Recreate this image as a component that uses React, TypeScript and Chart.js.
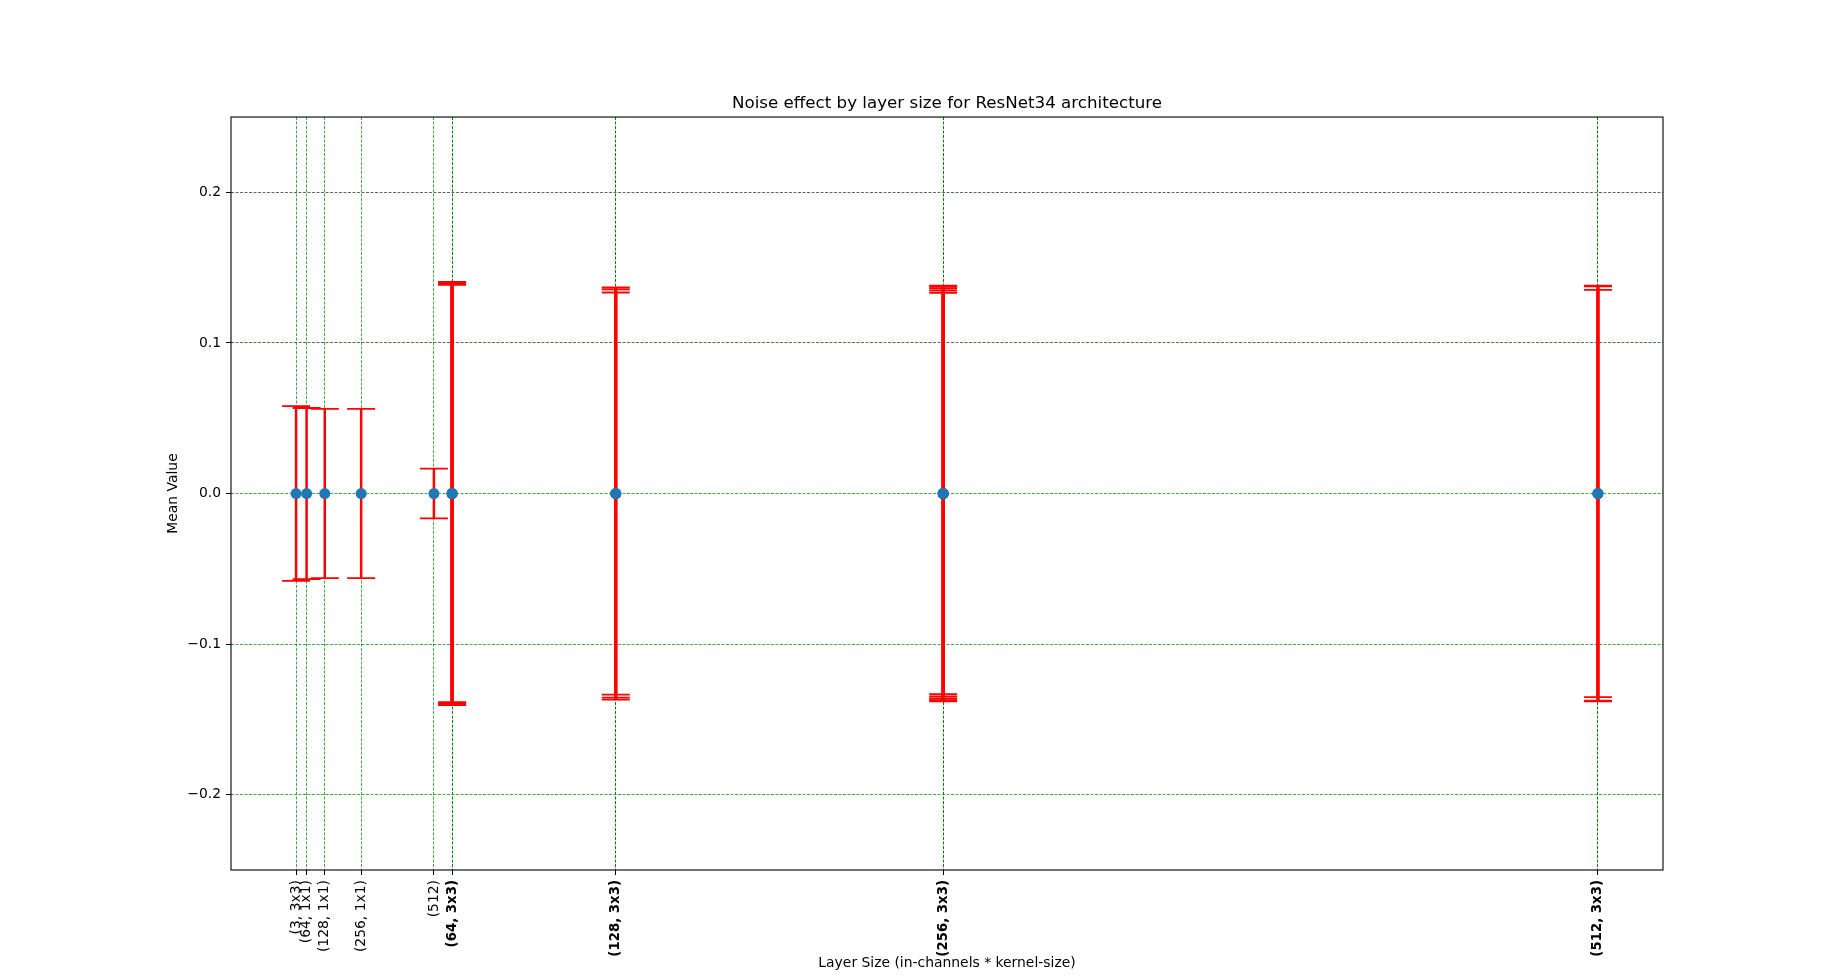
import { useEffect, useRef } from "react";
import Chart from "chart.js/auto";

// Layer groups on the x axis (in-channels, kernel size) and their size value
const groupLabels = [
  "(3, 3x3)",
  "(64, 1x1)",
  "(128, 1x1)",
  "(256, 1x1)",
  "(512)",
  "(64, 3x3)",
  "(128, 3x3)",
  "(256, 3x3)",
  "(512, 3x3)",
];
const groupSizes = [27, 64, 128, 256, 512, 576, 1152, 2304, 4608];
const groupIsBold = [false, false, false, false, false, true, true, true, true];

// One entry per layer: size, mean noise value, std (error bar)
const layerSizes = [
  27, 64, 128, 256, 512,
  576, 576, 576, 576,
  1152, 1152, 1152,
  2304, 2304, 2304, 2304, 2304,
  4608, 4608, 4608,
];
const layerMeans = [
  0, 0, 0, 0, 0,
  0, 0, 0, 0,
  0, 0, 0,
  0, 0, 0, 0, 0,
  0, 0, 0,
];
const layerStds = [
  0.058, 0.0568, 0.0562, 0.0562, 0.0165,
  0.1385, 0.1392, 0.1398, 0.1405,
  0.1335, 0.1355, 0.1368,
  0.1332, 0.1348, 0.1362, 0.1372, 0.138,
  0.1352, 0.1376, 0.138,
];

const yTicks = [-0.2, -0.1, 0.0, 0.1, 0.2];

const FONT = "'DejaVu Sans', sans-serif";

const errorBarPlugin = {
  id: "errorBars",
  beforeDatasetsDraw(chart: any) {
    const { ctx } = chart;
    const x = chart.scales.x;
    const y = chart.scales.y;
    ctx.save();
    ctx.strokeStyle = "#ff0000";
    layerSizes.forEach((s, i) => {
      const px = x.getPixelForValue(s);
      const top = y.getPixelForValue(layerMeans[i] + layerStds[i]);
      const bot = y.getPixelForValue(layerMeans[i] - layerStds[i]);
      ctx.lineWidth = layerStds[i] > 0.1 ? 3 : 2.5;
      ctx.beginPath();
      ctx.moveTo(px, top);
      ctx.lineTo(px, bot);
      ctx.stroke();
      ctx.lineWidth = 1.8;
      ctx.beginPath();
      ctx.moveTo(px - 14, top);
      ctx.lineTo(px + 14, top);
      ctx.moveTo(px - 14, bot);
      ctx.lineTo(px + 14, bot);
      ctx.stroke();
    });
    ctx.restore();
  },
};

const framePlugin = {
  id: "frame",
  afterDraw(chart: any) {
    const { ctx, chartArea: a } = chart;
    ctx.save();
    ctx.strokeStyle = "#000";
    ctx.lineWidth = 1.1;
    ctx.strokeRect(a.left, a.top, a.right - a.left, a.bottom - a.top);
    ctx.restore();
  },
};

export default function App() {
  const chartRef = useRef<HTMLCanvasElement | null>(null);

  useEffect(() => {
    if (!chartRef.current) return;
    const chart = new Chart(chartRef.current, {
      type: "scatter",
      data: {
        datasets: [
          {
            label: "mean",
            data: layerSizes.map((s, i) => ({ x: s, y: layerMeans[i] })),
            backgroundColor: "#1f77b4",
            borderWidth: 0,
            pointRadius: 5.5,
          },
        ],
      },
      options: {
        animation: false,
        responsive: true,
        maintainAspectRatio: false,
        layout: { padding: { left: 0, right: 185, top: 0, bottom: 0 } },
        plugins: {
          legend: { display: false },
          tooltip: { enabled: false },
          title: {
            display: true,
            text: "Noise effect by layer size for ResNet34 architecture",
            fullSize: false,
            color: "#000",
            font: { family: FONT, size: 16.7, weight: "normal", lineHeight: 1.2 },
            padding: { top: 94, bottom: 3 },
          },
        },
        scales: {
          x: {
            type: "linear",
            min: -202,
            max: 4837,
            afterBuildTicks: (scale: any) => {
              scale.ticks = groupSizes.map((v) => ({ value: v }));
            },
            afterFit: (scale: any) => {
              scale.height = 107;
            },
            ticks: {
              autoSkip: false,
              minRotation: 90,
              maxRotation: 90,
              padding: 5,
              color: "#000",
              font: (c: any) => ({
                family: FONT,
                size: groupIsBold[c.index] ? 13.3 : 13.9,
                weight: groupIsBold[c.index] ? "bold" : "normal",
              }),
              callback: (_v: any, i: number) => groupLabels[i],
            },
            grid: {
              color: (c: any) =>
                groupIsBold[c.index] ? "#008000" : "rgba(40,150,40,0.85)",
              lineWidth: 1,
              tickColor: "#000",
              tickLength: 5,
              tickWidth: 1,
            },
            border: { display: false, dash: [3, 1.5] },
            title: {
              display: true,
              text: "Layer Size (in-channels * kernel-size)",
              color: "#000",
              font: { family: FONT, size: 13.9, lineHeight: 1.2 },
              padding: { top: 0, bottom: 5.7 },
            },
          },
          y: {
            type: "linear",
            min: -0.25,
            max: 0.25,
            afterBuildTicks: (scale: any) => {
              scale.ticks = yTicks.map((v) => ({ value: v }));
            },
            afterFit: (scale: any) => {
              scale.width = 231;
            },
            ticks: {
              padding: 5,
              color: "#000",
              font: { family: FONT, size: 13.9 },
              callback: (v: any) => {
                const n = Number(v);
                const s = Math.abs(n).toFixed(1);
                return n < -1e-9 ? "\u2212" + s : s;
              },
            },
            grid: {
              color: (c: any) =>
                c.tick && c.tick.value > 0.05
                  ? "rgba(70,95,70,0.9)"
                  : "rgba(40,150,40,0.85)",
              lineWidth: 1,
              tickColor: "#000",
              tickLength: 5,
              tickWidth: 1,
            },
            border: { display: false, dash: [3, 1.5] },
            title: {
              display: true,
              text: "Mean Value",
              color: "#000",
              font: { family: FONT, size: 13.9, lineHeight: 1.2 },
              padding: { top: 165, bottom: 0 },
            },
          },
        },
      },
      plugins: [errorBarPlugin, framePlugin],
    });
    return () => chart.destroy();
  }, []);

  return (
    <div
      style={{
        position: "fixed",
        left: 0,
        top: 0,
        width: "1848px",
        height: "977px",
        background: "#fff",
      }}
    >
      <canvas ref={chartRef} />
    </div>
  );
}
